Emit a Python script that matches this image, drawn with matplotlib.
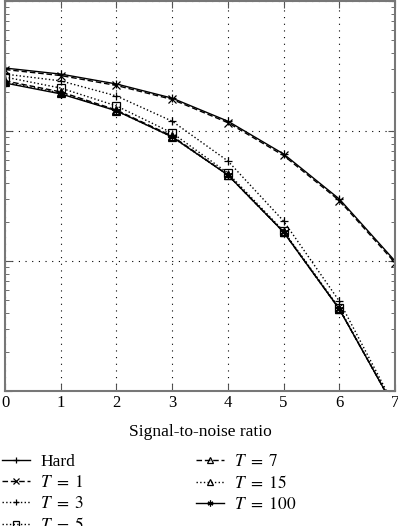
import numpy as np
import matplotlib
matplotlib.use("Agg")
import matplotlib.pyplot as plt
from matplotlib.ticker import LogLocator, NullFormatter

plt.rcParams['font.family'] = ['Liberation Serif', 'DejaVu Serif']
plt.rcParams['mathtext.fontset'] = 'stix'

## data
snr = [0, 1, 2, 3, 4, 5, 6, 7]
hard = [3.05e-2, 2.74e-2, 2.30e-2, 1.79e-2, 1.19e-2, 6.66e-3, 3.00e-3, 1.00e-3]
t1 = [2.97e-2, 2.67e-2, 2.24e-2, 1.75e-2, 1.16e-2, 6.48e-3, 2.92e-3, 9.7e-4]
t3 = [2.74e-2, 2.43e-2, 1.86e-2, 1.19e-2, 5.88e-3, 2.03e-3, 4.92e-4, 7.5e-5]
t5 = [2.60e-2, 2.14e-2, 1.56e-2, 9.66e-3, 4.75e-3, 1.70e-3, 4.35e-4, 7.3e-5]
t7 = [2.43e-2, 2.00e-2, 1.45e-2, 9.15e-3, 4.59e-3, 1.67e-3, 4.27e-4, 7.3e-5]
t15 = [2.38e-2, 1.96e-2, 1.43e-2, 9.00e-3, 4.59e-3, 1.67e-3, 4.27e-4, 7.3e-5]
t100 = [2.34e-2, 1.93e-2, 1.43e-2, 9.00e-3, 4.59e-3, 1.67e-3, 4.27e-4, 7.3e-5]

labels = ['Hard', r'$T\ =\ 1$', r'$T\ =\ 3$', r'$T\ =\ 5$',
          r'$T\ =\ 7$', r'$T\ =\ 15$', r'$T\ =\ 100$']

fig = plt.figure(figsize=(3.98, 5.26), dpi=100)
ax = fig.add_axes([5 / 398, 1 - 391 / 526, 390 / 398, 390 / 526])

kw = dict(color='k', lw=1.0, ms=6, mew=0.9, mfc='none')
ax.plot(snr, hard, ls='-', marker='+', label=labels[0], **kw)
ax.plot(snr, t1, ls=(0, (4, 2)), marker='x', label=labels[1], **kw)
ax.plot(snr, t3, ls=':', marker='+', label=labels[2], **kw)
ax.plot(snr, t5, ls=':', marker='s', label=labels[3], **kw)
ax.plot(snr, t7, ls=(0, (4, 2)), marker='^', label=labels[4], **kw)
ax.plot(snr, t15, ls=':', marker='^', label=labels[5], **kw)
ax.plot(snr, t100, ls='-', marker=(6, 2, 0), label=labels[6], **kw)

ax.set_yscale('log')
ax.set_ylim(1e-4, 1e-1)
ax.set_xlim(0, 7)
ax.set_xticks(snr)
ax.yaxis.set_major_locator(LogLocator(base=10, numticks=10))
ax.yaxis.set_minor_locator(LogLocator(base=10, subs=np.arange(2, 10), numticks=20))
ax.yaxis.set_major_formatter(NullFormatter())
ax.yaxis.set_minor_formatter(NullFormatter())
ax.grid(True, which='major', ls=(0, (1, 5)), color='k', lw=0.8)

ax.tick_params(which='both', direction='in', top=True, right=True, color='#555555')
ax.tick_params(which='major', length=5, labelsize=12, pad=3)
ax.tick_params(which='minor', length=3)
for s in ax.spines.values():
    s.set_color('#777777')
    s.set_linewidth(1.5)

ax.set_xlabel('Signal-to-noise ratio', fontsize=12.5, labelpad=9)

fig.legend(loc='upper left', bbox_to_anchor=(0.005, 1 - 454 / 526), ncol=2,
           frameon=False, fontsize=12.5, handlelength=1.6, handletextpad=0.6,
           markerscale=0.7, columnspacing=6.4, labelspacing=0.28,
           borderpad=0, borderaxespad=0)

fig.savefig('out.png', dpi=100)
